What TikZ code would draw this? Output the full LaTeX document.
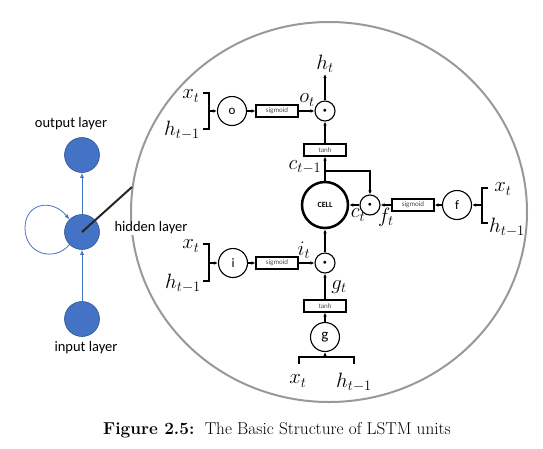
\documentclass[tikz,border=0pt]{standalone}
\usepackage{fontspec}
\setsansfont{Carlito}
\usetikzlibrary{arrows.meta}
\definecolor{nblue}{HTML}{4472C4}
\definecolor{nblueD}{HTML}{2F5597}
\begin{document}
\begin{tikzpicture}[x=1pt,y=-1pt,
  neuron/.style={circle, fill=nblue, draw=nblueD, line width=0.6pt, minimum size=35pt, inner sep=0pt},
  barr/.style={-{Latex[length=5pt,width=4pt]}, draw=nblue, line width=0.8pt},
  layerlbl/.style={font=\sffamily\fontsize{14.5}{15}\selectfont, inner sep=1pt},
  gate/.style={circle, draw, line width=1.1pt, minimum size=29pt, inner sep=0pt, font=\sffamily\fontsize{13}{13}\selectfont},
  mult/.style={circle, draw, line width=1.1pt, minimum size=20pt, inner sep=0pt, font=\fontsize{7}{7}\selectfont},
  fbox/.style={rectangle, draw, line width=1.1pt, minimum width=42pt, minimum height=12pt, inner sep=0pt, font=\sffamily\fontsize{7}{7}\selectfont, text=black!70},
  arr/.style={-{Latex[length=4pt,width=3.5pt]}, line width=1.1pt},
  lbl/.style={font=\fontsize{19.5}{19.5}\selectfont, inner sep=1pt},
  brk/.style={line width=1.1pt}
]
\useasboundingbox (0,0) rectangle (543,448);

% big circle
\draw[black!40, line width=2pt] (329,212) ellipse [x radius=198pt, y radius=190pt];

% left network
\node[neuron] (out) at (82,155) {};
\node[neuron] (hid) at (82,232) {};
\node[neuron] (inp) at (82,319) {};
\node[layerlbl] (outl) at (71,124) {output layer};
\node[layerlbl] (inpl) at (86,348) {input layer};
\node[layerlbl, fill=white] (hidl) at (151,228) {hidden layer};
\draw[barr] (inp.north) -- (hid.south);
\draw[barr] (hid.north) -- (out.south);
\draw[barr] (hid.-135) .. controls (55,262) and (25,255) .. (25,228)
   .. controls (25,203) and (52,198) .. (hid.135);
\coordinate (rim) at (132,187);
\draw[black!85, line width=2pt] (hid.center) -- (rim);

% output gate row
\node[gate] (o) at (232,111) {o};
\node[fbox] (so) at (277,111) {sigmoid};
\node[mult] (mo) at (325,111) {$\bullet$};
\node[lbl] (ht) at (325,64) {$h_t$};
\node[lbl] (ot) at (307,100) {$o_t$};
\node[fbox] (th1) at (325,150) {tanh};
\node[lbl] (ctm) at (305,167) {$c_{t-1}$};
\draw[brk] (203,93) -- (209,93) -- (209,129) -- (203,129);
\coordinate (bo) at (209,111);
\node[lbl] (xo) at (191,96) {$x_t$};
\node[lbl] (ho) at (182,130) {$h_{t-1}$};
\draw[arr] (bo) -- (o.west);
\draw[arr] (o.east) -- (so.west);
\draw[arr] (so.east) -- (mo.west);
\draw[arr] (mo.north) -- (ht.south);
\draw[arr] (th1.north) -- (mo.south);

% cell row
\node[circle, draw, line width=2.5pt, minimum size=46pt, inner sep=0pt, font=\sffamily\bfseries\fontsize{8}{8}\selectfont] (cell) at (325,205) {CELL};
\node[mult] (mf) at (370,205) {$\bullet$};
\node[fbox] (sf) at (413,205) {sigmoid};
\node[gate] (f) at (457,205) {f};
\node[lbl] (ct) at (358,215) {$c_t$};
\node[lbl] (ft) at (386,217) {$f_t$};
\draw[brk] (488,188) -- (482,188) -- (482,223) -- (488,223);
\coordinate (bf) at (482,205);
\node[lbl] (xf) at (503,189) {$x_t$};
\node[lbl] (hf) at (507,227) {$h_{t-1}$};
\coordinate (br) at (325,171);
\draw[arr] (cell.north) -- (th1.south);
\draw[arr] (br) -| (mf.north);
\draw[arr] (mf.west) -- (cell.east);
\draw[arr] (sf.west) -- (mf.east);
\draw[arr] (f.west) -- (sf.east);
\draw[arr] (bf) -- (f.east);

% input gate row
\node[gate] (i) at (233,263) {i};
\node[fbox] (si) at (277,263) {sigmoid};
\node[mult] (mi) at (325,263) {$\bullet$};
\node[lbl] (it) at (304,250) {$i_t$};
\draw[brk] (203,244) -- (209,244) -- (209,281) -- (203,281);
\coordinate (bi) at (209,263);
\node[lbl] (xi) at (191,246) {$x_t$};
\node[lbl] (hi) at (183,283) {$h_{t-1}$};
\draw[arr] (bi) -- (i.west);
\draw[arr] (i.east) -- (si.west);
\draw[arr] (si.east) -- (mi.west);
\draw[arr] (mi.north) -- (cell.south);

% g row
\node[lbl] (gt) at (339,287) {$g_t$};
\node[fbox] (th2) at (325,306) {tanh};
\node[gate, font=\sffamily\fontsize{15}{15}\selectfont] (g) at (325,337) {g};
\draw[brk] (299,364) -- (299,357) -- (354,357) -- (354,364);
\coordinate (bg) at (325,357);
\node[lbl] (xg) at (298,381) {$x_t$};
\node[lbl] (hg) at (354,382) {$h_{t-1}$};
\draw[arr] (th2.north) -- (mi.south);
\draw[arr] (g.north) -- (th2.south);
\draw[arr] (bg) -- (g.south);

% caption
\node[font=\fontsize{17.2}{19}\selectfont] (cap) at (277,430) {\textbf{Figure 2.5:}\hspace{0.6em}The Basic Structure of LSTM units};
\end{tikzpicture}
\end{document}
